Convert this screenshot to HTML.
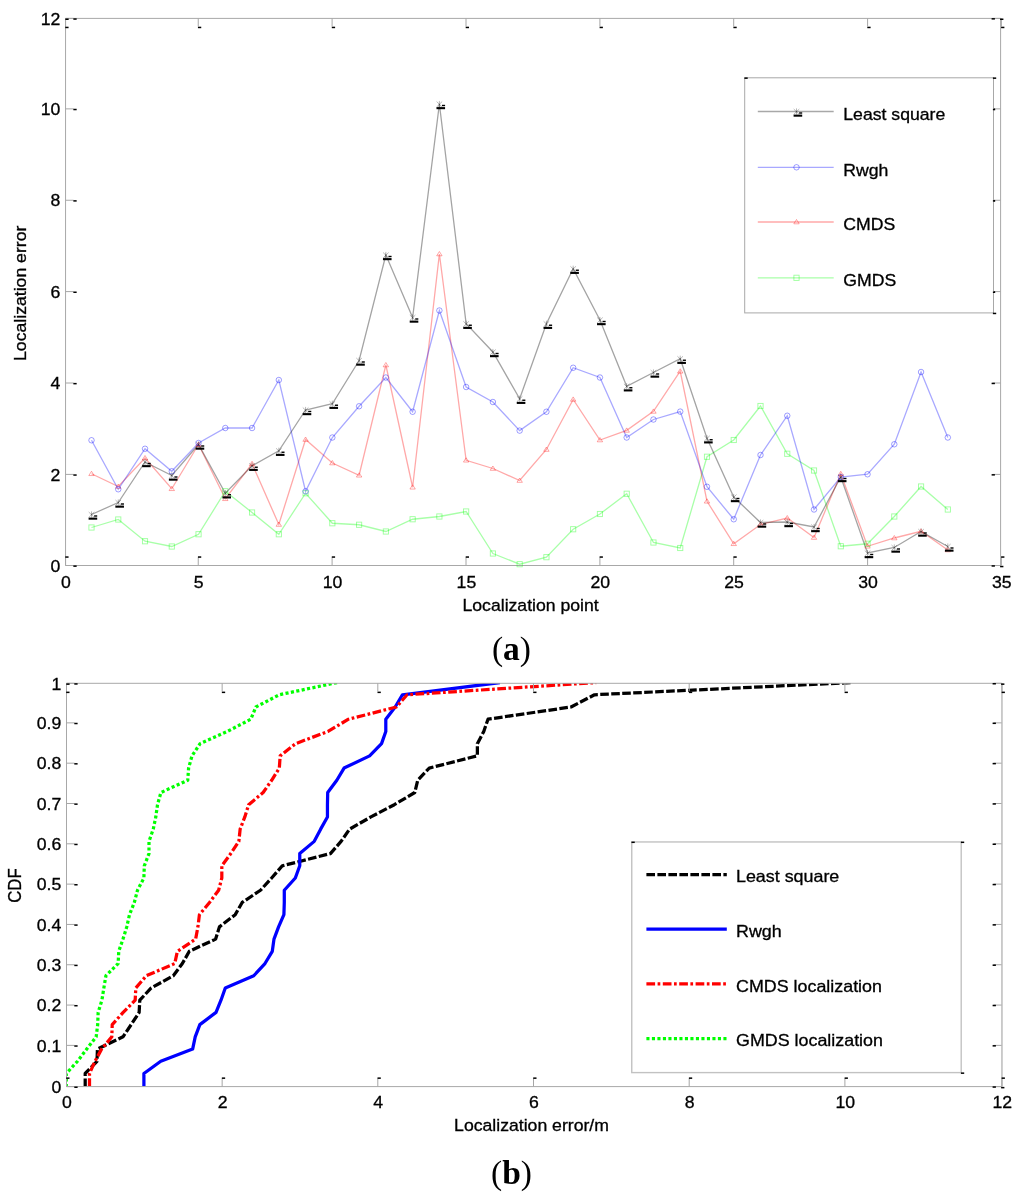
<!DOCTYPE html>
<html lang="en">
<head>
<meta charset="utf-8">
<title>Localization error comparison</title>
<style>
html,body{margin:0;padding:0;background:#fff;}
body{width:1024px;height:1193px;overflow:hidden;}
svg{display:block;}
</style>
</head>
<body>
<svg width="1024" height="1193" viewBox="0 0 1024 1193" font-family="'Liberation Sans', Arial, Helvetica, sans-serif" fill="#000">
<rect width="1024" height="1193" fill="#fff"/>
<g id="chart-a">
<line x1="65.55" y1="18.4" x2="1000.6" y2="18.4" stroke="#a8a8a8" stroke-width="1" />
<line x1="65.55" y1="565.5" x2="1000.6" y2="565.5" stroke="#a8a8a8" stroke-width="1" />
<line x1="65.55" y1="18.4" x2="65.55" y2="565.5" stroke="#a8a8a8" stroke-width="1" />
<line x1="1000.6" y1="18.4" x2="1000.6" y2="565.5" stroke="#a8a8a8" stroke-width="1.0" />
<line x1="65.55" y1="565.5" x2="65.55" y2="557.5" stroke="#a6a6a6" stroke-width="1" />
<rect x="65.25" y="556.3" width="3.3" height="1.5" fill="#000"/>
<line x1="65.55" y1="18.4" x2="65.55" y2="26.4" stroke="#a6a6a6" stroke-width="1" />
<rect x="65.25" y="26.7" width="3.3" height="1.5" fill="#000"/>
<text transform="translate(65.95 587.7) scale(1.083 1)" font-size="16.3" text-anchor="middle" stroke="#000" stroke-width="0.3" >0</text>
<line x1="198.24" y1="565.5" x2="198.24" y2="557.5" stroke="#a6a6a6" stroke-width="1" />
<rect x="197.94" y="556.3" width="3.3" height="1.5" fill="#000"/>
<line x1="198.24" y1="18.4" x2="198.24" y2="26.4" stroke="#a6a6a6" stroke-width="1" />
<rect x="197.94" y="26.7" width="3.3" height="1.5" fill="#000"/>
<text transform="translate(198.64 587.7) scale(1.083 1)" font-size="16.3" text-anchor="middle" stroke="#000" stroke-width="0.3" >5</text>
<line x1="332.1" y1="565.5" x2="332.1" y2="557.5" stroke="#a6a6a6" stroke-width="1" />
<rect x="331.8" y="556.3" width="3.3" height="1.5" fill="#000"/>
<line x1="332.1" y1="18.4" x2="332.1" y2="26.4" stroke="#a6a6a6" stroke-width="1" />
<rect x="331.8" y="26.7" width="3.3" height="1.5" fill="#000"/>
<text transform="translate(332.5 587.7) scale(1.083 1)" font-size="16.3" text-anchor="middle" stroke="#000" stroke-width="0.3" >10</text>
<line x1="466" y1="565.5" x2="466" y2="557.5" stroke="#a6a6a6" stroke-width="1" />
<rect x="465.7" y="556.3" width="3.3" height="1.5" fill="#000"/>
<line x1="466" y1="18.4" x2="466" y2="26.4" stroke="#a6a6a6" stroke-width="1" />
<rect x="465.7" y="26.7" width="3.3" height="1.5" fill="#000"/>
<text transform="translate(466.4 587.7) scale(1.083 1)" font-size="16.3" text-anchor="middle" stroke="#000" stroke-width="0.3" >15</text>
<line x1="599.9" y1="565.5" x2="599.9" y2="557.5" stroke="#a6a6a6" stroke-width="1" />
<rect x="599.6" y="556.3" width="3.3" height="1.5" fill="#000"/>
<line x1="599.9" y1="18.4" x2="599.9" y2="26.4" stroke="#a6a6a6" stroke-width="1" />
<rect x="599.6" y="26.7" width="3.3" height="1.5" fill="#000"/>
<text transform="translate(600.3 587.7) scale(1.083 1)" font-size="16.3" text-anchor="middle" stroke="#000" stroke-width="0.3" >20</text>
<line x1="733.7" y1="565.5" x2="733.7" y2="557.5" stroke="#a6a6a6" stroke-width="1" />
<rect x="733.4" y="556.3" width="3.3" height="1.5" fill="#000"/>
<line x1="733.7" y1="18.4" x2="733.7" y2="26.4" stroke="#a6a6a6" stroke-width="1" />
<rect x="733.4" y="26.7" width="3.3" height="1.5" fill="#000"/>
<text transform="translate(734.1 587.7) scale(1.083 1)" font-size="16.3" text-anchor="middle" stroke="#000" stroke-width="0.3" >25</text>
<line x1="867.6" y1="565.5" x2="867.6" y2="557.5" stroke="#a6a6a6" stroke-width="1" />
<rect x="867.3" y="556.3" width="3.3" height="1.5" fill="#000"/>
<line x1="867.6" y1="18.4" x2="867.6" y2="26.4" stroke="#a6a6a6" stroke-width="1" />
<rect x="867.3" y="26.7" width="3.3" height="1.5" fill="#000"/>
<text transform="translate(868 587.7) scale(1.083 1)" font-size="16.3" text-anchor="middle" stroke="#000" stroke-width="0.3" >30</text>
<line x1="1001.4" y1="565.5" x2="1001.4" y2="557.5" stroke="#a6a6a6" stroke-width="1" />
<rect x="1001.1" y="556.3" width="3.3" height="1.5" fill="#000"/>
<line x1="1001.4" y1="18.4" x2="1001.4" y2="26.4" stroke="#a6a6a6" stroke-width="1" />
<rect x="1001.1" y="26.7" width="3.3" height="1.5" fill="#000"/>
<text transform="translate(1001.8 587.7) scale(1.083 1)" font-size="16.3" text-anchor="middle" stroke="#000" stroke-width="0.3" >35</text>
<line x1="65.55" y1="565.5" x2="73.55" y2="565.5" stroke="#a6a6a6" stroke-width="1" />
<rect x="73.35" y="565.4" width="3.3" height="1.5" fill="#000"/>
<line x1="1000.6" y1="565.5" x2="992.6" y2="565.5" stroke="#a6a6a6" stroke-width="1" />
<rect x="991.6" y="565.2" width="3.3" height="1.5" fill="#000"/>
<text transform="translate(60.35 571.7) scale(1.083 1)" font-size="16.3" text-anchor="end" stroke="#000" stroke-width="0.3" >0</text>
<line x1="65.55" y1="474.4" x2="73.55" y2="474.4" stroke="#a6a6a6" stroke-width="1" />
<rect x="73.35" y="474.3" width="3.3" height="1.5" fill="#000"/>
<line x1="1000.6" y1="474.4" x2="992.6" y2="474.4" stroke="#a6a6a6" stroke-width="1" />
<rect x="991.6" y="474.1" width="3.3" height="1.5" fill="#000"/>
<text transform="translate(60.35 480.6) scale(1.083 1)" font-size="16.3" text-anchor="end" stroke="#000" stroke-width="0.3" >2</text>
<line x1="65.55" y1="383" x2="73.55" y2="383" stroke="#a6a6a6" stroke-width="1" />
<rect x="73.35" y="382.9" width="3.3" height="1.5" fill="#000"/>
<line x1="1000.6" y1="383" x2="992.6" y2="383" stroke="#a6a6a6" stroke-width="1" />
<rect x="991.6" y="382.7" width="3.3" height="1.5" fill="#000"/>
<text transform="translate(60.35 389.2) scale(1.083 1)" font-size="16.3" text-anchor="end" stroke="#000" stroke-width="0.3" >4</text>
<line x1="65.55" y1="291.6" x2="73.55" y2="291.6" stroke="#a6a6a6" stroke-width="1" />
<rect x="73.35" y="291.5" width="3.3" height="1.5" fill="#000"/>
<line x1="1000.6" y1="291.6" x2="992.6" y2="291.6" stroke="#a6a6a6" stroke-width="1" />
<rect x="991.6" y="291.3" width="3.3" height="1.5" fill="#000"/>
<text transform="translate(60.35 297.8) scale(1.083 1)" font-size="16.3" text-anchor="end" stroke="#000" stroke-width="0.3" >6</text>
<line x1="65.55" y1="200.25" x2="73.55" y2="200.25" stroke="#a6a6a6" stroke-width="1" />
<rect x="73.35" y="200.15" width="3.3" height="1.5" fill="#000"/>
<line x1="1000.6" y1="200.25" x2="992.6" y2="200.25" stroke="#a6a6a6" stroke-width="1" />
<rect x="991.6" y="199.95" width="3.3" height="1.5" fill="#000"/>
<text transform="translate(60.35 206.45) scale(1.083 1)" font-size="16.3" text-anchor="end" stroke="#000" stroke-width="0.3" >8</text>
<line x1="65.55" y1="108.87" x2="73.55" y2="108.87" stroke="#a6a6a6" stroke-width="1" />
<rect x="73.35" y="108.77" width="3.3" height="1.5" fill="#000"/>
<line x1="1000.6" y1="108.87" x2="992.6" y2="108.87" stroke="#a6a6a6" stroke-width="1" />
<rect x="991.6" y="108.57" width="3.3" height="1.5" fill="#000"/>
<text transform="translate(60.35 115.07) scale(1.083 1)" font-size="16.3" text-anchor="end" stroke="#000" stroke-width="0.3" >10</text>
<line x1="65.55" y1="18.4" x2="73.55" y2="18.4" stroke="#a6a6a6" stroke-width="1" />
<rect x="73.35" y="18.3" width="3.3" height="1.5" fill="#000"/>
<line x1="1000.6" y1="18.4" x2="992.6" y2="18.4" stroke="#a6a6a6" stroke-width="1" />
<rect x="991.6" y="18.1" width="3.3" height="1.5" fill="#000"/>
<text transform="translate(60.35 24.6) scale(1.083 1)" font-size="16.3" text-anchor="end" stroke="#000" stroke-width="0.3" >12</text>
<rect x="65.35" y="18.5" width="3.3" height="1.5" fill="#000"/>
<rect x="1000.1" y="18.5" width="3.3" height="1.5" fill="#000"/>
<rect x="1000.1" y="565.8" width="3.3" height="1.5" fill="#000"/>
<polyline points="91.5,527.5 118.26,519.5 145.02,541.25 171.78,546.5 198.54,534.25 225.3,491.25 252.06,512.5 278.82,534.25 305.58,493.25 332.34,523.25 359.1,524.75 385.86,531.5 412.62,519.25 439.38,516.5 466.14,511.5 492.9,553.5 519.66,564.2 546.42,557.2 573.18,529.25 599.94,514 626.7,493.75 653.46,542.5 680.22,548 706.98,456.75 733.74,440 760.5,406 787.26,453.75 814.02,470.5 840.78,546.25 867.54,543.75 894.3,516.5 921.06,486.5 947.82,509.5" fill="none" stroke="#00ff00" stroke-width="1.3" stroke-opacity="0.34"/>
<polyline points="91.5,473.75 118.26,486.5 145.02,458 171.78,488.75 198.54,444.5 225.3,498.75 252.06,463.75 278.82,524.5 305.58,439.5 332.34,463 359.1,475.25 385.86,365 412.62,487.25 439.38,254 466.14,460.25 492.9,468.5 519.66,480.5 546.42,449.5 573.18,399.4 599.94,440 626.7,430.4 653.46,411.4 680.22,371.25 706.98,501.25 733.74,543.75 760.5,524.5 787.26,518 814.02,537.5 840.78,473.75 867.54,546.25 894.3,538 921.06,531.25 947.82,550" fill="none" stroke="#ff0000" stroke-width="1.3" stroke-opacity="0.34"/>
<polyline points="91.5,440.25 118.26,489.25 145.02,448.75 171.78,471.25 198.54,443 225.3,428 252.06,428 278.82,380 305.58,491.25 332.34,437.5 359.1,406.25 385.86,377.5 412.62,411.75 439.38,310.5 466.14,387 492.9,402 519.66,430.6 546.42,411.75 573.18,367.75 599.94,377.5 626.7,437.5 653.46,419.5 680.22,411.6 706.98,486.75 733.74,519.25 760.5,455 787.26,415.75 814.02,509.5 840.78,477 867.54,474.25 894.3,444.25 921.06,372 947.82,437.5" fill="none" stroke="#0000ff" stroke-width="1.3" stroke-opacity="0.34"/>
<polyline points="91.5,514.5 118.26,502.5 145.02,462 171.78,475.5 198.54,444.5 225.3,493.25 252.06,465.75 278.82,450.75 305.58,410 332.34,403.75 359.1,360.5 385.86,255 412.62,317.5 439.38,104 466.14,323.75 492.9,352 519.66,398.75 546.42,323.75 573.18,268.75 599.94,320 626.7,386.25 653.46,372.5 680.22,358.75 706.98,438.25 733.74,497 760.5,522.5 787.26,522 814.02,527 840.78,477 867.54,553 894.3,547.5 921.06,531.5 947.82,546.5" fill="none" stroke="#000000" stroke-width="1.3" stroke-opacity="0.36000000000000004"/>
<rect x="88.9" y="524.9" width="5.2" height="5.2" fill="none" stroke="#00ff00" stroke-width="0.9" stroke-opacity="0.39"/>
<rect x="115.66" y="516.9" width="5.2" height="5.2" fill="none" stroke="#00ff00" stroke-width="0.9" stroke-opacity="0.39"/>
<rect x="142.42" y="538.65" width="5.2" height="5.2" fill="none" stroke="#00ff00" stroke-width="0.9" stroke-opacity="0.39"/>
<rect x="169.18" y="543.9" width="5.2" height="5.2" fill="none" stroke="#00ff00" stroke-width="0.9" stroke-opacity="0.39"/>
<rect x="195.94" y="531.65" width="5.2" height="5.2" fill="none" stroke="#00ff00" stroke-width="0.9" stroke-opacity="0.39"/>
<rect x="222.7" y="488.65" width="5.2" height="5.2" fill="none" stroke="#00ff00" stroke-width="0.9" stroke-opacity="0.39"/>
<rect x="249.46" y="509.9" width="5.2" height="5.2" fill="none" stroke="#00ff00" stroke-width="0.9" stroke-opacity="0.39"/>
<rect x="276.22" y="531.65" width="5.2" height="5.2" fill="none" stroke="#00ff00" stroke-width="0.9" stroke-opacity="0.39"/>
<rect x="302.98" y="490.65" width="5.2" height="5.2" fill="none" stroke="#00ff00" stroke-width="0.9" stroke-opacity="0.39"/>
<rect x="329.74" y="520.65" width="5.2" height="5.2" fill="none" stroke="#00ff00" stroke-width="0.9" stroke-opacity="0.39"/>
<rect x="356.5" y="522.15" width="5.2" height="5.2" fill="none" stroke="#00ff00" stroke-width="0.9" stroke-opacity="0.39"/>
<rect x="383.26" y="528.9" width="5.2" height="5.2" fill="none" stroke="#00ff00" stroke-width="0.9" stroke-opacity="0.39"/>
<rect x="410.02" y="516.65" width="5.2" height="5.2" fill="none" stroke="#00ff00" stroke-width="0.9" stroke-opacity="0.39"/>
<rect x="436.78" y="513.9" width="5.2" height="5.2" fill="none" stroke="#00ff00" stroke-width="0.9" stroke-opacity="0.39"/>
<rect x="463.54" y="508.9" width="5.2" height="5.2" fill="none" stroke="#00ff00" stroke-width="0.9" stroke-opacity="0.39"/>
<rect x="490.3" y="550.9" width="5.2" height="5.2" fill="none" stroke="#00ff00" stroke-width="0.9" stroke-opacity="0.39"/>
<rect x="517.06" y="561.6" width="5.2" height="5.2" fill="none" stroke="#00ff00" stroke-width="0.9" stroke-opacity="0.39"/>
<rect x="543.82" y="554.6" width="5.2" height="5.2" fill="none" stroke="#00ff00" stroke-width="0.9" stroke-opacity="0.39"/>
<rect x="570.58" y="526.65" width="5.2" height="5.2" fill="none" stroke="#00ff00" stroke-width="0.9" stroke-opacity="0.39"/>
<rect x="597.34" y="511.4" width="5.2" height="5.2" fill="none" stroke="#00ff00" stroke-width="0.9" stroke-opacity="0.39"/>
<rect x="624.1" y="491.15" width="5.2" height="5.2" fill="none" stroke="#00ff00" stroke-width="0.9" stroke-opacity="0.39"/>
<rect x="650.86" y="539.9" width="5.2" height="5.2" fill="none" stroke="#00ff00" stroke-width="0.9" stroke-opacity="0.39"/>
<rect x="677.62" y="545.4" width="5.2" height="5.2" fill="none" stroke="#00ff00" stroke-width="0.9" stroke-opacity="0.39"/>
<rect x="704.38" y="454.15" width="5.2" height="5.2" fill="none" stroke="#00ff00" stroke-width="0.9" stroke-opacity="0.39"/>
<rect x="731.14" y="437.4" width="5.2" height="5.2" fill="none" stroke="#00ff00" stroke-width="0.9" stroke-opacity="0.39"/>
<rect x="757.9" y="403.4" width="5.2" height="5.2" fill="none" stroke="#00ff00" stroke-width="0.9" stroke-opacity="0.39"/>
<rect x="784.66" y="451.15" width="5.2" height="5.2" fill="none" stroke="#00ff00" stroke-width="0.9" stroke-opacity="0.39"/>
<rect x="811.42" y="467.9" width="5.2" height="5.2" fill="none" stroke="#00ff00" stroke-width="0.9" stroke-opacity="0.39"/>
<rect x="838.18" y="543.65" width="5.2" height="5.2" fill="none" stroke="#00ff00" stroke-width="0.9" stroke-opacity="0.39"/>
<rect x="864.94" y="541.15" width="5.2" height="5.2" fill="none" stroke="#00ff00" stroke-width="0.9" stroke-opacity="0.39"/>
<rect x="891.7" y="513.9" width="5.2" height="5.2" fill="none" stroke="#00ff00" stroke-width="0.9" stroke-opacity="0.39"/>
<rect x="918.46" y="483.9" width="5.2" height="5.2" fill="none" stroke="#00ff00" stroke-width="0.9" stroke-opacity="0.39"/>
<rect x="945.22" y="506.9" width="5.2" height="5.2" fill="none" stroke="#00ff00" stroke-width="0.9" stroke-opacity="0.39"/>
<path d="M88.8 475.55L94.2 475.55L91.5 471.25Z" fill="none" stroke="#ff0000" stroke-width="0.9" stroke-opacity="0.39"/>
<path d="M115.56 488.3L120.96 488.3L118.26 484Z" fill="none" stroke="#ff0000" stroke-width="0.9" stroke-opacity="0.39"/>
<path d="M142.32 459.8L147.72 459.8L145.02 455.5Z" fill="none" stroke="#ff0000" stroke-width="0.9" stroke-opacity="0.39"/>
<path d="M169.08 490.55L174.48 490.55L171.78 486.25Z" fill="none" stroke="#ff0000" stroke-width="0.9" stroke-opacity="0.39"/>
<path d="M195.84 446.3L201.24 446.3L198.54 442Z" fill="none" stroke="#ff0000" stroke-width="0.9" stroke-opacity="0.39"/>
<path d="M222.6 500.55L228 500.55L225.3 496.25Z" fill="none" stroke="#ff0000" stroke-width="0.9" stroke-opacity="0.39"/>
<path d="M249.36 465.55L254.76 465.55L252.06 461.25Z" fill="none" stroke="#ff0000" stroke-width="0.9" stroke-opacity="0.39"/>
<path d="M276.12 526.3L281.52 526.3L278.82 522Z" fill="none" stroke="#ff0000" stroke-width="0.9" stroke-opacity="0.39"/>
<path d="M302.88 441.3L308.28 441.3L305.58 437Z" fill="none" stroke="#ff0000" stroke-width="0.9" stroke-opacity="0.39"/>
<path d="M329.64 464.8L335.04 464.8L332.34 460.5Z" fill="none" stroke="#ff0000" stroke-width="0.9" stroke-opacity="0.39"/>
<path d="M356.4 477.05L361.8 477.05L359.1 472.75Z" fill="none" stroke="#ff0000" stroke-width="0.9" stroke-opacity="0.39"/>
<path d="M383.16 366.8L388.56 366.8L385.86 362.5Z" fill="none" stroke="#ff0000" stroke-width="0.9" stroke-opacity="0.39"/>
<path d="M409.92 489.05L415.32 489.05L412.62 484.75Z" fill="none" stroke="#ff0000" stroke-width="0.9" stroke-opacity="0.39"/>
<path d="M436.68 255.8L442.08 255.8L439.38 251.5Z" fill="none" stroke="#ff0000" stroke-width="0.9" stroke-opacity="0.39"/>
<path d="M463.44 462.05L468.84 462.05L466.14 457.75Z" fill="none" stroke="#ff0000" stroke-width="0.9" stroke-opacity="0.39"/>
<path d="M490.2 470.3L495.6 470.3L492.9 466Z" fill="none" stroke="#ff0000" stroke-width="0.9" stroke-opacity="0.39"/>
<path d="M516.96 482.3L522.36 482.3L519.66 478Z" fill="none" stroke="#ff0000" stroke-width="0.9" stroke-opacity="0.39"/>
<path d="M543.72 451.3L549.12 451.3L546.42 447Z" fill="none" stroke="#ff0000" stroke-width="0.9" stroke-opacity="0.39"/>
<path d="M570.48 401.2L575.88 401.2L573.18 396.9Z" fill="none" stroke="#ff0000" stroke-width="0.9" stroke-opacity="0.39"/>
<path d="M597.24 441.8L602.64 441.8L599.94 437.5Z" fill="none" stroke="#ff0000" stroke-width="0.9" stroke-opacity="0.39"/>
<path d="M624 432.2L629.4 432.2L626.7 427.9Z" fill="none" stroke="#ff0000" stroke-width="0.9" stroke-opacity="0.39"/>
<path d="M650.76 413.2L656.16 413.2L653.46 408.9Z" fill="none" stroke="#ff0000" stroke-width="0.9" stroke-opacity="0.39"/>
<path d="M677.52 373.05L682.92 373.05L680.22 368.75Z" fill="none" stroke="#ff0000" stroke-width="0.9" stroke-opacity="0.39"/>
<path d="M704.28 503.05L709.68 503.05L706.98 498.75Z" fill="none" stroke="#ff0000" stroke-width="0.9" stroke-opacity="0.39"/>
<path d="M731.04 545.55L736.44 545.55L733.74 541.25Z" fill="none" stroke="#ff0000" stroke-width="0.9" stroke-opacity="0.39"/>
<path d="M757.8 526.3L763.2 526.3L760.5 522Z" fill="none" stroke="#ff0000" stroke-width="0.9" stroke-opacity="0.39"/>
<path d="M784.56 519.8L789.96 519.8L787.26 515.5Z" fill="none" stroke="#ff0000" stroke-width="0.9" stroke-opacity="0.39"/>
<path d="M811.32 539.3L816.72 539.3L814.02 535Z" fill="none" stroke="#ff0000" stroke-width="0.9" stroke-opacity="0.39"/>
<path d="M838.08 475.55L843.48 475.55L840.78 471.25Z" fill="none" stroke="#ff0000" stroke-width="0.9" stroke-opacity="0.39"/>
<path d="M864.84 548.05L870.24 548.05L867.54 543.75Z" fill="none" stroke="#ff0000" stroke-width="0.9" stroke-opacity="0.39"/>
<path d="M891.6 539.8L897 539.8L894.3 535.5Z" fill="none" stroke="#ff0000" stroke-width="0.9" stroke-opacity="0.39"/>
<path d="M918.36 533.05L923.76 533.05L921.06 528.75Z" fill="none" stroke="#ff0000" stroke-width="0.9" stroke-opacity="0.39"/>
<path d="M945.12 551.8L950.52 551.8L947.82 547.5Z" fill="none" stroke="#ff0000" stroke-width="0.9" stroke-opacity="0.39"/>
<circle cx="91.5" cy="440.25" r="2.75" fill="none" stroke="#0000ff" stroke-width="0.9" stroke-opacity="0.42000000000000004"/>
<circle cx="118.26" cy="489.25" r="2.75" fill="none" stroke="#0000ff" stroke-width="0.9" stroke-opacity="0.42000000000000004"/>
<circle cx="145.02" cy="448.75" r="2.75" fill="none" stroke="#0000ff" stroke-width="0.9" stroke-opacity="0.42000000000000004"/>
<circle cx="171.78" cy="471.25" r="2.75" fill="none" stroke="#0000ff" stroke-width="0.9" stroke-opacity="0.42000000000000004"/>
<circle cx="198.54" cy="443" r="2.75" fill="none" stroke="#0000ff" stroke-width="0.9" stroke-opacity="0.42000000000000004"/>
<circle cx="225.3" cy="428" r="2.75" fill="none" stroke="#0000ff" stroke-width="0.9" stroke-opacity="0.42000000000000004"/>
<circle cx="252.06" cy="428" r="2.75" fill="none" stroke="#0000ff" stroke-width="0.9" stroke-opacity="0.42000000000000004"/>
<circle cx="278.82" cy="380" r="2.75" fill="none" stroke="#0000ff" stroke-width="0.9" stroke-opacity="0.42000000000000004"/>
<circle cx="305.58" cy="491.25" r="2.75" fill="none" stroke="#0000ff" stroke-width="0.9" stroke-opacity="0.42000000000000004"/>
<circle cx="332.34" cy="437.5" r="2.75" fill="none" stroke="#0000ff" stroke-width="0.9" stroke-opacity="0.42000000000000004"/>
<circle cx="359.1" cy="406.25" r="2.75" fill="none" stroke="#0000ff" stroke-width="0.9" stroke-opacity="0.42000000000000004"/>
<circle cx="385.86" cy="377.5" r="2.75" fill="none" stroke="#0000ff" stroke-width="0.9" stroke-opacity="0.42000000000000004"/>
<circle cx="412.62" cy="411.75" r="2.75" fill="none" stroke="#0000ff" stroke-width="0.9" stroke-opacity="0.42000000000000004"/>
<circle cx="439.38" cy="310.5" r="2.75" fill="none" stroke="#0000ff" stroke-width="0.9" stroke-opacity="0.42000000000000004"/>
<circle cx="466.14" cy="387" r="2.75" fill="none" stroke="#0000ff" stroke-width="0.9" stroke-opacity="0.42000000000000004"/>
<circle cx="492.9" cy="402" r="2.75" fill="none" stroke="#0000ff" stroke-width="0.9" stroke-opacity="0.42000000000000004"/>
<circle cx="519.66" cy="430.6" r="2.75" fill="none" stroke="#0000ff" stroke-width="0.9" stroke-opacity="0.42000000000000004"/>
<circle cx="546.42" cy="411.75" r="2.75" fill="none" stroke="#0000ff" stroke-width="0.9" stroke-opacity="0.42000000000000004"/>
<circle cx="573.18" cy="367.75" r="2.75" fill="none" stroke="#0000ff" stroke-width="0.9" stroke-opacity="0.42000000000000004"/>
<circle cx="599.94" cy="377.5" r="2.75" fill="none" stroke="#0000ff" stroke-width="0.9" stroke-opacity="0.42000000000000004"/>
<circle cx="626.7" cy="437.5" r="2.75" fill="none" stroke="#0000ff" stroke-width="0.9" stroke-opacity="0.42000000000000004"/>
<circle cx="653.46" cy="419.5" r="2.75" fill="none" stroke="#0000ff" stroke-width="0.9" stroke-opacity="0.42000000000000004"/>
<circle cx="680.22" cy="411.6" r="2.75" fill="none" stroke="#0000ff" stroke-width="0.9" stroke-opacity="0.42000000000000004"/>
<circle cx="706.98" cy="486.75" r="2.75" fill="none" stroke="#0000ff" stroke-width="0.9" stroke-opacity="0.42000000000000004"/>
<circle cx="733.74" cy="519.25" r="2.75" fill="none" stroke="#0000ff" stroke-width="0.9" stroke-opacity="0.42000000000000004"/>
<circle cx="760.5" cy="455" r="2.75" fill="none" stroke="#0000ff" stroke-width="0.9" stroke-opacity="0.42000000000000004"/>
<circle cx="787.26" cy="415.75" r="2.75" fill="none" stroke="#0000ff" stroke-width="0.9" stroke-opacity="0.42000000000000004"/>
<circle cx="814.02" cy="509.5" r="2.75" fill="none" stroke="#0000ff" stroke-width="0.9" stroke-opacity="0.42000000000000004"/>
<circle cx="840.78" cy="477" r="2.75" fill="none" stroke="#0000ff" stroke-width="0.9" stroke-opacity="0.42000000000000004"/>
<circle cx="867.54" cy="474.25" r="2.75" fill="none" stroke="#0000ff" stroke-width="0.9" stroke-opacity="0.42000000000000004"/>
<circle cx="894.3" cy="444.25" r="2.75" fill="none" stroke="#0000ff" stroke-width="0.9" stroke-opacity="0.42000000000000004"/>
<circle cx="921.06" cy="372" r="2.75" fill="none" stroke="#0000ff" stroke-width="0.9" stroke-opacity="0.42000000000000004"/>
<circle cx="947.82" cy="437.5" r="2.75" fill="none" stroke="#0000ff" stroke-width="0.9" stroke-opacity="0.42000000000000004"/>
<path d="M88.7 512L94.3 517.5M94.3 512L88.7 517.5M91.5 511.4L91.5 517.5" fill="none" stroke="#000" stroke-width="0.7" stroke-opacity="0.4"/>
<rect x="88.6" y="517.6" width="8.6" height="2.1" fill="#000"/>
<rect x="94.1" y="515.3" width="3.1" height="1.4" fill="#000"/>
<path d="M115.46 500L121.06 505.5M121.06 500L115.46 505.5M118.26 499.4L118.26 505.5" fill="none" stroke="#000" stroke-width="0.7" stroke-opacity="0.4"/>
<rect x="115.36" y="505.6" width="8.6" height="2.1" fill="#000"/>
<rect x="120.86" y="503.3" width="3.1" height="1.4" fill="#000"/>
<path d="M142.22 459.5L147.82 465M147.82 459.5L142.22 465M145.02 458.9L145.02 465" fill="none" stroke="#000" stroke-width="0.7" stroke-opacity="0.4"/>
<rect x="142.12" y="465.1" width="8.6" height="2.1" fill="#000"/>
<rect x="147.62" y="462.8" width="3.1" height="1.4" fill="#000"/>
<path d="M168.98 473L174.58 478.5M174.58 473L168.98 478.5M171.78 472.4L171.78 478.5" fill="none" stroke="#000" stroke-width="0.7" stroke-opacity="0.4"/>
<rect x="168.88" y="478.6" width="8.6" height="2.1" fill="#000"/>
<rect x="174.38" y="476.3" width="3.1" height="1.4" fill="#000"/>
<path d="M195.74 442L201.34 447.5M201.34 442L195.74 447.5M198.54 441.4L198.54 447.5" fill="none" stroke="#000" stroke-width="0.7" stroke-opacity="0.4"/>
<rect x="195.64" y="447.6" width="8.6" height="2.1" fill="#000"/>
<rect x="201.14" y="445.3" width="3.1" height="1.4" fill="#000"/>
<path d="M222.5 490.75L228.1 496.25M228.1 490.75L222.5 496.25M225.3 490.15L225.3 496.25" fill="none" stroke="#000" stroke-width="0.7" stroke-opacity="0.4"/>
<rect x="222.4" y="496.35" width="8.6" height="2.1" fill="#000"/>
<rect x="227.9" y="494.05" width="3.1" height="1.4" fill="#000"/>
<path d="M249.26 463.25L254.86 468.75M254.86 463.25L249.26 468.75M252.06 462.65L252.06 468.75" fill="none" stroke="#000" stroke-width="0.7" stroke-opacity="0.4"/>
<rect x="249.16" y="468.85" width="8.6" height="2.1" fill="#000"/>
<rect x="254.66" y="466.55" width="3.1" height="1.4" fill="#000"/>
<path d="M276.02 448.25L281.62 453.75M281.62 448.25L276.02 453.75M278.82 447.65L278.82 453.75" fill="none" stroke="#000" stroke-width="0.7" stroke-opacity="0.4"/>
<rect x="275.92" y="453.85" width="8.6" height="2.1" fill="#000"/>
<rect x="281.42" y="451.55" width="3.1" height="1.4" fill="#000"/>
<path d="M302.78 407.5L308.38 413M308.38 407.5L302.78 413M305.58 406.9L305.58 413" fill="none" stroke="#000" stroke-width="0.7" stroke-opacity="0.4"/>
<rect x="302.68" y="413.1" width="8.6" height="2.1" fill="#000"/>
<rect x="308.18" y="410.8" width="3.1" height="1.4" fill="#000"/>
<path d="M329.54 401.25L335.14 406.75M335.14 401.25L329.54 406.75M332.34 400.65L332.34 406.75" fill="none" stroke="#000" stroke-width="0.7" stroke-opacity="0.4"/>
<rect x="329.44" y="406.85" width="8.6" height="2.1" fill="#000"/>
<rect x="334.94" y="404.55" width="3.1" height="1.4" fill="#000"/>
<path d="M356.3 358L361.9 363.5M361.9 358L356.3 363.5M359.1 357.4L359.1 363.5" fill="none" stroke="#000" stroke-width="0.7" stroke-opacity="0.4"/>
<rect x="356.2" y="363.6" width="8.6" height="2.1" fill="#000"/>
<rect x="361.7" y="361.3" width="3.1" height="1.4" fill="#000"/>
<path d="M383.06 252.5L388.66 258M388.66 252.5L383.06 258M385.86 251.9L385.86 258" fill="none" stroke="#000" stroke-width="0.7" stroke-opacity="0.4"/>
<rect x="382.96" y="258.1" width="8.6" height="2.1" fill="#000"/>
<rect x="388.46" y="255.8" width="3.1" height="1.4" fill="#000"/>
<path d="M409.82 315L415.42 320.5M415.42 315L409.82 320.5M412.62 314.4L412.62 320.5" fill="none" stroke="#000" stroke-width="0.7" stroke-opacity="0.4"/>
<rect x="409.72" y="320.6" width="8.6" height="2.1" fill="#000"/>
<rect x="415.22" y="318.3" width="3.1" height="1.4" fill="#000"/>
<path d="M436.58 101.5L442.18 107M442.18 101.5L436.58 107M439.38 100.9L439.38 107" fill="none" stroke="#000" stroke-width="0.7" stroke-opacity="0.4"/>
<rect x="436.48" y="107.1" width="8.6" height="2.1" fill="#000"/>
<rect x="441.98" y="104.8" width="3.1" height="1.4" fill="#000"/>
<path d="M463.34 321.25L468.94 326.75M468.94 321.25L463.34 326.75M466.14 320.65L466.14 326.75" fill="none" stroke="#000" stroke-width="0.7" stroke-opacity="0.4"/>
<rect x="463.24" y="326.85" width="8.6" height="2.1" fill="#000"/>
<rect x="468.74" y="324.55" width="3.1" height="1.4" fill="#000"/>
<path d="M490.1 349.5L495.7 355M495.7 349.5L490.1 355M492.9 348.9L492.9 355" fill="none" stroke="#000" stroke-width="0.7" stroke-opacity="0.4"/>
<rect x="490" y="355.1" width="8.6" height="2.1" fill="#000"/>
<rect x="495.5" y="352.8" width="3.1" height="1.4" fill="#000"/>
<path d="M516.86 396.25L522.46 401.75M522.46 396.25L516.86 401.75M519.66 395.65L519.66 401.75" fill="none" stroke="#000" stroke-width="0.7" stroke-opacity="0.4"/>
<rect x="516.76" y="401.85" width="8.6" height="2.1" fill="#000"/>
<rect x="522.26" y="399.55" width="3.1" height="1.4" fill="#000"/>
<path d="M543.62 321.25L549.22 326.75M549.22 321.25L543.62 326.75M546.42 320.65L546.42 326.75" fill="none" stroke="#000" stroke-width="0.7" stroke-opacity="0.4"/>
<rect x="543.52" y="326.85" width="8.6" height="2.1" fill="#000"/>
<rect x="549.02" y="324.55" width="3.1" height="1.4" fill="#000"/>
<path d="M570.38 266.25L575.98 271.75M575.98 266.25L570.38 271.75M573.18 265.65L573.18 271.75" fill="none" stroke="#000" stroke-width="0.7" stroke-opacity="0.4"/>
<rect x="570.28" y="271.85" width="8.6" height="2.1" fill="#000"/>
<rect x="575.78" y="269.55" width="3.1" height="1.4" fill="#000"/>
<path d="M597.14 317.5L602.74 323M602.74 317.5L597.14 323M599.94 316.9L599.94 323" fill="none" stroke="#000" stroke-width="0.7" stroke-opacity="0.4"/>
<rect x="597.04" y="323.1" width="8.6" height="2.1" fill="#000"/>
<rect x="602.54" y="320.8" width="3.1" height="1.4" fill="#000"/>
<path d="M623.9 383.75L629.5 389.25M629.5 383.75L623.9 389.25M626.7 383.15L626.7 389.25" fill="none" stroke="#000" stroke-width="0.7" stroke-opacity="0.4"/>
<rect x="623.8" y="389.35" width="8.6" height="2.1" fill="#000"/>
<rect x="629.3" y="387.05" width="3.1" height="1.4" fill="#000"/>
<path d="M650.66 370L656.26 375.5M656.26 370L650.66 375.5M653.46 369.4L653.46 375.5" fill="none" stroke="#000" stroke-width="0.7" stroke-opacity="0.4"/>
<rect x="650.56" y="375.6" width="8.6" height="2.1" fill="#000"/>
<rect x="656.06" y="373.3" width="3.1" height="1.4" fill="#000"/>
<path d="M677.42 356.25L683.02 361.75M683.02 356.25L677.42 361.75M680.22 355.65L680.22 361.75" fill="none" stroke="#000" stroke-width="0.7" stroke-opacity="0.4"/>
<rect x="677.32" y="361.85" width="8.6" height="2.1" fill="#000"/>
<rect x="682.82" y="359.55" width="3.1" height="1.4" fill="#000"/>
<path d="M704.18 435.75L709.78 441.25M709.78 435.75L704.18 441.25M706.98 435.15L706.98 441.25" fill="none" stroke="#000" stroke-width="0.7" stroke-opacity="0.4"/>
<rect x="704.08" y="441.35" width="8.6" height="2.1" fill="#000"/>
<rect x="709.58" y="439.05" width="3.1" height="1.4" fill="#000"/>
<path d="M730.94 494.5L736.54 500M736.54 494.5L730.94 500M733.74 493.9L733.74 500" fill="none" stroke="#000" stroke-width="0.7" stroke-opacity="0.4"/>
<rect x="730.84" y="500.1" width="8.6" height="2.1" fill="#000"/>
<rect x="736.34" y="497.8" width="3.1" height="1.4" fill="#000"/>
<path d="M757.7 520L763.3 525.5M763.3 520L757.7 525.5M760.5 519.4L760.5 525.5" fill="none" stroke="#000" stroke-width="0.7" stroke-opacity="0.4"/>
<rect x="757.6" y="525.6" width="8.6" height="2.1" fill="#000"/>
<rect x="763.1" y="523.3" width="3.1" height="1.4" fill="#000"/>
<path d="M784.46 519.5L790.06 525M790.06 519.5L784.46 525M787.26 518.9L787.26 525" fill="none" stroke="#000" stroke-width="0.7" stroke-opacity="0.4"/>
<rect x="784.36" y="525.1" width="8.6" height="2.1" fill="#000"/>
<rect x="789.86" y="522.8" width="3.1" height="1.4" fill="#000"/>
<path d="M811.22 524.5L816.82 530M816.82 524.5L811.22 530M814.02 523.9L814.02 530" fill="none" stroke="#000" stroke-width="0.7" stroke-opacity="0.4"/>
<rect x="811.12" y="530.1" width="8.6" height="2.1" fill="#000"/>
<rect x="816.62" y="527.8" width="3.1" height="1.4" fill="#000"/>
<path d="M837.98 474.5L843.58 480M843.58 474.5L837.98 480M840.78 473.9L840.78 480" fill="none" stroke="#000" stroke-width="0.7" stroke-opacity="0.4"/>
<rect x="837.88" y="480.1" width="8.6" height="2.1" fill="#000"/>
<rect x="843.38" y="477.8" width="3.1" height="1.4" fill="#000"/>
<path d="M864.74 550.5L870.34 556M870.34 550.5L864.74 556M867.54 549.9L867.54 556" fill="none" stroke="#000" stroke-width="0.7" stroke-opacity="0.4"/>
<rect x="864.64" y="556.1" width="8.6" height="2.1" fill="#000"/>
<rect x="870.14" y="553.8" width="3.1" height="1.4" fill="#000"/>
<path d="M891.5 545L897.1 550.5M897.1 545L891.5 550.5M894.3 544.4L894.3 550.5" fill="none" stroke="#000" stroke-width="0.7" stroke-opacity="0.4"/>
<rect x="891.4" y="550.6" width="8.6" height="2.1" fill="#000"/>
<rect x="896.9" y="548.3" width="3.1" height="1.4" fill="#000"/>
<path d="M918.26 529L923.86 534.5M923.86 529L918.26 534.5M921.06 528.4L921.06 534.5" fill="none" stroke="#000" stroke-width="0.7" stroke-opacity="0.4"/>
<rect x="918.16" y="534.6" width="8.6" height="2.1" fill="#000"/>
<rect x="923.66" y="532.3" width="3.1" height="1.4" fill="#000"/>
<path d="M945.02 544L950.62 549.5M950.62 544L945.02 549.5M947.82 543.4L947.82 549.5" fill="none" stroke="#000" stroke-width="0.7" stroke-opacity="0.4"/>
<rect x="944.92" y="549.6" width="8.6" height="2.1" fill="#000"/>
<rect x="950.42" y="547.3" width="3.1" height="1.4" fill="#000"/>
<rect x="744.7" y="77.8" width="248.8" height="235.1" fill="#fff" stroke="#a8a8a8" stroke-width="1"/>
<rect x="744.4" y="77.4" width="3.3" height="1.5" fill="#000"/>
<rect x="992.9" y="77.4" width="3.3" height="1.5" fill="#000"/>
<rect x="992.9" y="312.7" width="3.3" height="1.5" fill="#000"/>
<rect x="992.9" y="291.5" width="2.3" height="1.5" fill="#000"/>
<rect x="992.9" y="200.15" width="2.3" height="1.5" fill="#000"/>
<rect x="992.9" y="108.77" width="2.3" height="1.5" fill="#000"/>
<line x1="757.8" y1="111.5" x2="833.7" y2="111.5" stroke="#000000" stroke-width="1.3" stroke-opacity="0.34"/>
<path d="M793.7 109L799.3 114.5M799.3 109L793.7 114.5M796.5 108.4L796.5 114.5" fill="none" stroke="#000" stroke-width="0.7" stroke-opacity="0.4"/>
<rect x="793.6" y="114.6" width="8.6" height="2.1" fill="#000"/>
<rect x="799.1" y="112.3" width="3.1" height="1.4" fill="#000"/>
<text transform="translate(843.3 119.8) scale(1.083 1)" font-size="16.3" text-anchor="start" stroke="#000" stroke-width="0.3" >Least square</text>
<line x1="757.8" y1="167.3" x2="833.7" y2="167.3" stroke="#0000ff" stroke-width="1.3" stroke-opacity="0.34"/>
<circle cx="796.5" cy="167.3" r="2.75" fill="none" stroke="#0000ff" stroke-width="0.9" stroke-opacity="0.42000000000000004"/>
<text transform="translate(843.3 175.6) scale(1.083 1)" font-size="16.3" text-anchor="start" stroke="#000" stroke-width="0.3" >Rwgh</text>
<line x1="757.8" y1="222" x2="833.7" y2="222" stroke="#ff0000" stroke-width="1.3" stroke-opacity="0.34"/>
<path d="M793.8 223.8L799.2 223.8L796.5 219.5Z" fill="none" stroke="#ff0000" stroke-width="0.9" stroke-opacity="0.39"/>
<text transform="translate(843.3 230.3) scale(1.083 1)" font-size="16.3" text-anchor="start" stroke="#000" stroke-width="0.3" >CMDS</text>
<line x1="757.8" y1="277.8" x2="833.7" y2="277.8" stroke="#00ff00" stroke-width="1.3" stroke-opacity="0.34"/>
<rect x="793.9" y="275.2" width="5.2" height="5.2" fill="none" stroke="#00ff00" stroke-width="0.9" stroke-opacity="0.39"/>
<text transform="translate(843.3 286.1) scale(1.083 1)" font-size="16.3" text-anchor="start" stroke="#000" stroke-width="0.3" >GMDS</text>
<text transform="translate(530.6 611.3) scale(1.083 1)" font-size="16.3" text-anchor="middle" stroke="#000" stroke-width="0.3" >Localization point</text>
<text transform="translate(26.4 293.3) rotate(-90) scale(1.083 1.05)" font-size="16.3" text-anchor="middle" stroke="#000" stroke-width="0.3">Localization error</text>
<text x="511.45" y="660.4" font-size="33.5" text-anchor="middle" font-family="'Liberation Serif', 'Times New Roman', serif">(<tspan font-weight="bold">a</tspan>)</text>
</g>
<g id="chart-b">
<clipPath id="clipb"><rect x="66.5" y="682.9" width="935.1" height="403.7"/></clipPath>
<g clip-path="url(#clipb)">
<polyline points="85.2,1087 85.2,1073.48 97,1061.27 97.44,1049.05 122.97,1036.83 131.18,1024.62 139.13,1012.4 139.81,1000.18 151.2,987.97 173.3,975.75 182.36,963.53 189.3,951.32 215.64,939.1 219.42,926.88 235.23,914.67 242.17,902.45 260.5,890.23 271.65,878.02 282.3,865.8 330.43,853.58 341.08,841.37 349.6,829.15 370.89,816.93 394.32,804.72 414.76,792.5 417.74,780.28 429.24,768.07 477.37,755.85 477.37,743.63 483.76,731.42 488.02,719.2 571.07,706.98 594.5,694.77 851.75,682.55" fill="none" stroke="#000000" stroke-width="3.25" stroke-dasharray="8.6 2.4" stroke-linejoin="round"/>
<polyline points="143.9,1087 143.9,1073.48 160.75,1061.27 192.63,1049.05 195.21,1036.83 199.84,1024.62 216.02,1012.4 220.98,1000.18 225.29,987.97 253.76,975.75 264.96,963.53 272.29,951.32 273.98,939.1 278.57,926.88 283.91,914.67 284.29,902.45 284.29,890.23 295.33,878.02 299.76,865.8 299.76,853.58 314.24,841.37 320.63,829.15 327.45,816.93 327.45,804.72 327.7,792.5 336.82,780.28 344.06,768.07 369.61,755.85 381.54,743.63 385.8,731.42 385.8,719.2 395.17,706.98 402.41,694.77 499.94,682.55" fill="none" stroke="#0000ff" stroke-width="3.25" stroke-linejoin="round"/>
<polyline points="89.5,1087 89.5,1073.48 95,1061.27 101.66,1049.05 111.81,1036.83 112.23,1024.62 123.18,1012.4 135.18,1000.18 135.81,987.97 146.34,975.75 174.74,963.53 177.37,951.32 195.63,939.1 197.91,926.88 199.42,914.67 209.54,902.45 218.63,890.23 221.82,878.02 221.82,865.8 230.77,853.58 238.86,841.37 240.14,829.15 244.82,816.93 248.65,804.72 263.14,792.5 271.65,780.28 279.32,768.07 280.17,755.85 295.67,743.63 328.04,731.42 348.49,719.2 396.45,706.98 407.09,694.77 596.2,682.55" fill="none" stroke="#ff0000" stroke-width="3.25" stroke-dasharray="8.7 2.5 2.7 2.5" stroke-linejoin="round"/>
<polyline points="66.3,1087 66.3,1073.48 77.5,1061.27 86.73,1049.05 96.16,1036.83 97.69,1024.62 98.15,1012.4 101.91,1000.18 103.85,987.97 105.91,975.75 118.13,963.53 118.75,951.32 122.97,939.1 126.76,926.88 129.5,914.67 134.34,902.45 137.5,890.23 143.88,878.02 144.31,865.8 148.99,853.58 148.99,841.37 153.25,829.15 155.8,816.93 157.51,804.72 160.92,792.5 187.75,780.28 188.6,768.07 192.01,755.85 200.1,743.63 227.36,731.42 250.78,719.2 255.89,706.98 279.32,694.77 337.24,682.55" fill="none" stroke="#00ff00" stroke-width="3.25" stroke-dasharray="3.1 2.4" stroke-linejoin="round"/>
</g>
<line x1="66.5" y1="683.3" x2="1001.6" y2="683.3" stroke="#a8a8a8" stroke-width="1" />
<line x1="66.5" y1="1086.6" x2="1001.6" y2="1086.6" stroke="#a8a8a8" stroke-width="1" />
<line x1="66.5" y1="683.3" x2="66.5" y2="1086.6" stroke="#a8a8a8" stroke-width="1" />
<line x1="1001.95" y1="683.3" x2="1001.95" y2="1086.6" stroke="#c4c4c4" stroke-width="1.7" />
<line x1="66.5" y1="1086.6" x2="66.5" y2="1078.6" stroke="#a6a6a6" stroke-width="1" />
<rect x="66.2" y="1077.4" width="3.3" height="1.5" fill="#000"/>
<line x1="66.5" y1="683.3" x2="66.5" y2="691.3" stroke="#a6a6a6" stroke-width="1" />
<rect x="66.2" y="691.6" width="3.3" height="1.5" fill="#000"/>
<text transform="translate(66.9 1107.9) scale(1.083 1)" font-size="16.3" text-anchor="middle" stroke="#000" stroke-width="0.3" >0</text>
<line x1="222.15" y1="1086.6" x2="222.15" y2="1078.6" stroke="#a6a6a6" stroke-width="1" />
<rect x="221.85" y="1077.4" width="3.3" height="1.5" fill="#000"/>
<line x1="222.15" y1="683.3" x2="222.15" y2="691.3" stroke="#a6a6a6" stroke-width="1" />
<rect x="221.85" y="691.6" width="3.3" height="1.5" fill="#000"/>
<text transform="translate(222.55 1107.9) scale(1.083 1)" font-size="16.3" text-anchor="middle" stroke="#000" stroke-width="0.3" >2</text>
<line x1="377.8" y1="1086.6" x2="377.8" y2="1078.6" stroke="#a6a6a6" stroke-width="1" />
<rect x="377.5" y="1077.4" width="3.3" height="1.5" fill="#000"/>
<line x1="377.8" y1="683.3" x2="377.8" y2="691.3" stroke="#a6a6a6" stroke-width="1" />
<rect x="377.5" y="691.6" width="3.3" height="1.5" fill="#000"/>
<text transform="translate(378.2 1107.9) scale(1.083 1)" font-size="16.3" text-anchor="middle" stroke="#000" stroke-width="0.3" >4</text>
<line x1="533.5" y1="1086.6" x2="533.5" y2="1078.6" stroke="#a6a6a6" stroke-width="1" />
<rect x="533.2" y="1077.4" width="3.3" height="1.5" fill="#000"/>
<line x1="533.5" y1="683.3" x2="533.5" y2="691.3" stroke="#a6a6a6" stroke-width="1" />
<rect x="533.2" y="691.6" width="3.3" height="1.5" fill="#000"/>
<text transform="translate(533.9 1107.9) scale(1.083 1)" font-size="16.3" text-anchor="middle" stroke="#000" stroke-width="0.3" >6</text>
<line x1="689.2" y1="1086.6" x2="689.2" y2="1078.6" stroke="#a6a6a6" stroke-width="1" />
<rect x="688.9" y="1077.4" width="3.3" height="1.5" fill="#000"/>
<line x1="689.2" y1="683.3" x2="689.2" y2="691.3" stroke="#a6a6a6" stroke-width="1" />
<rect x="688.9" y="691.6" width="3.3" height="1.5" fill="#000"/>
<text transform="translate(689.6 1107.9) scale(1.083 1)" font-size="16.3" text-anchor="middle" stroke="#000" stroke-width="0.3" >8</text>
<line x1="844.9" y1="1086.6" x2="844.9" y2="1078.6" stroke="#a6a6a6" stroke-width="1" />
<rect x="844.6" y="1077.4" width="3.3" height="1.5" fill="#000"/>
<line x1="844.9" y1="683.3" x2="844.9" y2="691.3" stroke="#a6a6a6" stroke-width="1" />
<rect x="844.6" y="691.6" width="3.3" height="1.5" fill="#000"/>
<text transform="translate(845.3 1107.9) scale(1.083 1)" font-size="16.3" text-anchor="middle" stroke="#000" stroke-width="0.3" >10</text>
<line x1="1001.9" y1="1086.6" x2="1001.9" y2="1078.6" stroke="#a6a6a6" stroke-width="1" />
<rect x="1001.6" y="1077.4" width="3.3" height="1.5" fill="#000"/>
<line x1="1001.9" y1="683.3" x2="1001.9" y2="691.3" stroke="#a6a6a6" stroke-width="1" />
<rect x="1001.6" y="691.6" width="3.3" height="1.5" fill="#000"/>
<text transform="translate(1002.3 1107.9) scale(1.083 1)" font-size="16.3" text-anchor="middle" stroke="#000" stroke-width="0.3" >12</text>
<line x1="66.5" y1="1086.6" x2="74.5" y2="1086.6" stroke="#a6a6a6" stroke-width="1" />
<rect x="74.3" y="1086.5" width="3.3" height="1.5" fill="#000"/>
<line x1="1001.6" y1="1086.6" x2="993.6" y2="1086.6" stroke="#a6a6a6" stroke-width="1" />
<rect x="992.6" y="1086.3" width="3.3" height="1.5" fill="#000"/>
<text transform="translate(61.3 1092.8) scale(1.083 1)" font-size="16.3" text-anchor="end" stroke="#000" stroke-width="0.3" >0</text>
<line x1="66.5" y1="1045.38" x2="74.5" y2="1045.38" stroke="#a6a6a6" stroke-width="1" />
<rect x="74.3" y="1045.29" width="3.3" height="1.5" fill="#000"/>
<line x1="1001.6" y1="1045.38" x2="993.6" y2="1045.38" stroke="#a6a6a6" stroke-width="1" />
<rect x="992.6" y="1045.09" width="3.3" height="1.5" fill="#000"/>
<text transform="translate(61.3 1051.59) scale(1.083 1)" font-size="16.3" text-anchor="end" stroke="#000" stroke-width="0.3" >0.1</text>
<line x1="66.5" y1="1005.07" x2="74.5" y2="1005.07" stroke="#a6a6a6" stroke-width="1" />
<rect x="74.3" y="1004.97" width="3.3" height="1.5" fill="#000"/>
<line x1="1001.6" y1="1005.07" x2="993.6" y2="1005.07" stroke="#a6a6a6" stroke-width="1" />
<rect x="992.6" y="1004.77" width="3.3" height="1.5" fill="#000"/>
<text transform="translate(61.3 1011.27) scale(1.083 1)" font-size="16.3" text-anchor="end" stroke="#000" stroke-width="0.3" >0.2</text>
<line x1="66.5" y1="964.76" x2="74.5" y2="964.76" stroke="#a6a6a6" stroke-width="1" />
<rect x="74.3" y="964.66" width="3.3" height="1.5" fill="#000"/>
<line x1="1001.6" y1="964.76" x2="993.6" y2="964.76" stroke="#a6a6a6" stroke-width="1" />
<rect x="992.6" y="964.46" width="3.3" height="1.5" fill="#000"/>
<text transform="translate(61.3 970.96) scale(1.083 1)" font-size="16.3" text-anchor="end" stroke="#000" stroke-width="0.3" >0.3</text>
<line x1="66.5" y1="924.44" x2="74.5" y2="924.44" stroke="#a6a6a6" stroke-width="1" />
<rect x="74.3" y="924.34" width="3.3" height="1.5" fill="#000"/>
<line x1="1001.6" y1="924.44" x2="993.6" y2="924.44" stroke="#a6a6a6" stroke-width="1" />
<rect x="992.6" y="924.14" width="3.3" height="1.5" fill="#000"/>
<text transform="translate(61.3 930.64) scale(1.083 1)" font-size="16.3" text-anchor="end" stroke="#000" stroke-width="0.3" >0.4</text>
<line x1="66.5" y1="884.12" x2="74.5" y2="884.12" stroke="#a6a6a6" stroke-width="1" />
<rect x="74.3" y="884.02" width="3.3" height="1.5" fill="#000"/>
<line x1="1001.6" y1="884.12" x2="993.6" y2="884.12" stroke="#a6a6a6" stroke-width="1" />
<rect x="992.6" y="883.83" width="3.3" height="1.5" fill="#000"/>
<text transform="translate(61.3 890.33) scale(1.083 1)" font-size="16.3" text-anchor="end" stroke="#000" stroke-width="0.3" >0.5</text>
<line x1="66.5" y1="843.81" x2="74.5" y2="843.81" stroke="#a6a6a6" stroke-width="1" />
<rect x="74.3" y="843.71" width="3.3" height="1.5" fill="#000"/>
<line x1="1001.6" y1="843.81" x2="993.6" y2="843.81" stroke="#a6a6a6" stroke-width="1" />
<rect x="992.6" y="843.51" width="3.3" height="1.5" fill="#000"/>
<text transform="translate(61.3 850.01) scale(1.083 1)" font-size="16.3" text-anchor="end" stroke="#000" stroke-width="0.3" >0.6</text>
<line x1="66.5" y1="803.5" x2="74.5" y2="803.5" stroke="#a6a6a6" stroke-width="1" />
<rect x="74.3" y="803.4" width="3.3" height="1.5" fill="#000"/>
<line x1="1001.6" y1="803.5" x2="993.6" y2="803.5" stroke="#a6a6a6" stroke-width="1" />
<rect x="992.6" y="803.2" width="3.3" height="1.5" fill="#000"/>
<text transform="translate(61.3 809.7) scale(1.083 1)" font-size="16.3" text-anchor="end" stroke="#000" stroke-width="0.3" >0.7</text>
<line x1="66.5" y1="763.18" x2="74.5" y2="763.18" stroke="#a6a6a6" stroke-width="1" />
<rect x="74.3" y="763.08" width="3.3" height="1.5" fill="#000"/>
<line x1="1001.6" y1="763.18" x2="993.6" y2="763.18" stroke="#a6a6a6" stroke-width="1" />
<rect x="992.6" y="762.88" width="3.3" height="1.5" fill="#000"/>
<text transform="translate(61.3 769.38) scale(1.083 1)" font-size="16.3" text-anchor="end" stroke="#000" stroke-width="0.3" >0.8</text>
<line x1="66.5" y1="722.87" x2="74.5" y2="722.87" stroke="#a6a6a6" stroke-width="1" />
<rect x="74.3" y="722.76" width="3.3" height="1.5" fill="#000"/>
<line x1="1001.6" y1="722.87" x2="993.6" y2="722.87" stroke="#a6a6a6" stroke-width="1" />
<rect x="992.6" y="722.57" width="3.3" height="1.5" fill="#000"/>
<text transform="translate(61.3 729.07) scale(1.083 1)" font-size="16.3" text-anchor="end" stroke="#000" stroke-width="0.3" >0.9</text>
<line x1="66.5" y1="683.3" x2="74.5" y2="683.3" stroke="#a6a6a6" stroke-width="1" />
<rect x="74.3" y="683.2" width="3.3" height="1.5" fill="#000"/>
<line x1="1001.6" y1="683.3" x2="993.6" y2="683.3" stroke="#a6a6a6" stroke-width="1" />
<rect x="992.6" y="683" width="3.3" height="1.5" fill="#000"/>
<text transform="translate(61.3 689.5) scale(1.083 1)" font-size="16.3" text-anchor="end" stroke="#000" stroke-width="0.3" >1</text>
<rect x="66.3" y="683.4" width="3.3" height="1.5" fill="#000"/>
<rect x="1001.1" y="683.4" width="3.3" height="1.5" fill="#000"/>
<rect x="1001.1" y="1086.9" width="3.3" height="1.5" fill="#000"/>
<rect x="631.75" y="841.95" width="329.45" height="230.65" fill="#fff" stroke="#c2c2c2" stroke-width="1.4"/>
<rect x="631.45" y="841.55" width="3.3" height="1.5" fill="#000"/>
<rect x="960.9" y="841.55" width="3.3" height="1.5" fill="#000"/>
<rect x="960.9" y="1072.4" width="3.3" height="1.5" fill="#000"/>
<line x1="646.4" y1="874.6" x2="726.8" y2="874.6" stroke="#000000" stroke-width="3.25" stroke-dasharray="8.6 2.4"/>
<text transform="translate(736 882.2) scale(1.097 1)" font-size="16.3" text-anchor="start" stroke="#000" stroke-width="0.3" >Least square</text>
<line x1="646.4" y1="929.2" x2="726.8" y2="929.2" stroke="#0000ff" stroke-width="3.25" />
<text transform="translate(736 936.8) scale(1.097 1)" font-size="16.3" text-anchor="start" stroke="#000" stroke-width="0.3" >Rwgh</text>
<line x1="646.4" y1="983.9" x2="726.8" y2="983.9" stroke="#ff0000" stroke-width="3.25" stroke-dasharray="8.7 2.5 2.7 2.5"/>
<text transform="translate(736 991.5) scale(1.097 1)" font-size="16.3" text-anchor="start" stroke="#000" stroke-width="0.3" >CMDS localization</text>
<line x1="646.4" y1="1038.7" x2="726.8" y2="1038.7" stroke="#00ff00" stroke-width="3.25" stroke-dasharray="3.1 2.4"/>
<text transform="translate(736 1046.3) scale(1.097 1)" font-size="16.3" text-anchor="start" stroke="#000" stroke-width="0.3" >GMDS localization</text>
<text transform="translate(531.5 1131.3) scale(1.083 1)" font-size="16.3" text-anchor="middle" stroke="#000" stroke-width="0.3" >Localization error/m</text>
<text transform="translate(21.4 885.5) rotate(-90) scale(1.03 1.1)" font-size="16.3" text-anchor="middle" stroke="#000" stroke-width="0.3">CDF</text>
<text x="511.45" y="1183.9" font-size="33.5" text-anchor="middle" font-family="'Liberation Serif', 'Times New Roman', serif">(<tspan font-weight="bold">b</tspan>)</text>
</g>
</svg>
</body>
</html>
